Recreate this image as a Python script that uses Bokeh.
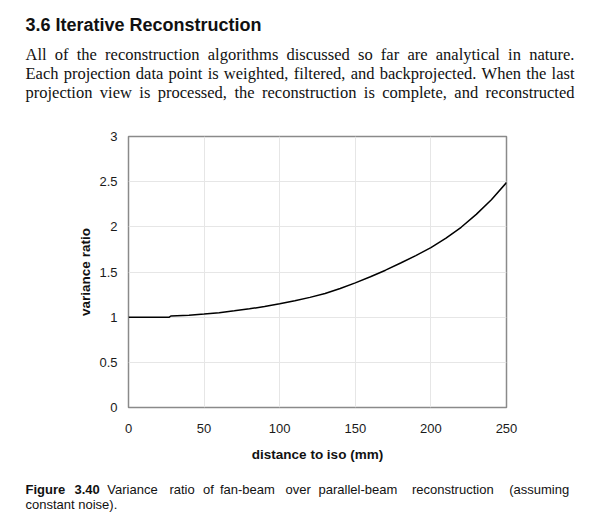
from bokeh.plotting import figure
from bokeh.layouts import column
from bokeh.models import Range1d, FixedTicker, NumeralTickFormatter
from bokeh.core.properties import value
from bokeh.embed import file_html
from bokeh.resources import INLINE

# ---- chart data ----
distance_mm = [0, 10, 20, 27, 28, 40, 50, 60, 70, 80, 90, 100, 110, 120, 130,
               140, 150, 160, 170, 180, 190, 200, 210, 220, 230, 240, 250]
variance_ratio = [1.0, 1.0, 1.0, 1.0, 1.013, 1.022, 1.035, 1.05, 1.07, 1.092,
                  1.118, 1.148, 1.181, 1.219, 1.262, 1.318, 1.38, 1.447, 1.52,
                  1.6, 1.682, 1.77, 1.875, 1.995, 2.138, 2.3, 2.49]
x_ticks = [0, 50, 100, 150, 200, 250]
y_ticks = [0, 0.5, 1, 1.5, 2, 2.5, 3]

heading = "3.6 Iterative Reconstruction"
para_lines = [
    "All of the reconstruction algorithms discussed so far are analytical in nature.",
    "Each projection data point is weighted, filtered, and backprojected. When the last",
    "projection view is processed, the reconstruction is complete, and reconstructed",
]
caption_bold = "Figure 3.40"
caption_line1 = "Variance ratio of fan-beam over parallel-beam reconstruction (assuming"
caption_line2 = "constant noise)."

# ---- font metrics (per 1000 em) for justification ----
TIMES = dict(zip(" ,.abcdefghijklmnopqrstuvwxyzAEW",
                 [250, 250, 250, 444, 500, 444, 500, 444, 333, 500, 500, 278, 278, 500, 278,
                  778, 500, 500, 500, 500, 333, 389, 278, 500, 500, 722, 500, 500, 444,
                  722, 611, 944]))
ARIAL = dict(zip(" abcdefghijklmnopqrstuvwxyz()-.V0123456789",
                 [278, 556, 556, 500, 556, 556, 278, 556, 556, 222, 222, 500, 222, 833, 556,
                  556, 556, 556, 333, 500, 278, 556, 500, 722, 500, 500, 500, 333, 333, 333,
                  278, 667] + [556] * 10))
ARIAL_B = dict(zip(" Figure.0123456789", [278, 611, 278, 611, 611, 389, 556, 278] + [556] * 10))


def wwidth(word, table, size):
    return sum(table.get(c, 500) for c in word) * size / 1000.0


W = 599
TOP_H = 110          # heading + paragraph band
CHART_BOTTOM = 466   # page y where chart canvas ends
CAP_H = 54           # caption band
FL, FR, FT, FB = 128, 506, 136, 407   # frame edges in page pixels


def text_band(y0, y1):
    f = figure(width=W, height=y1 - y0, x_range=Range1d(0, W),
               y_range=Range1d(y1, y0), output_backend="svg",
               toolbar_location=None, min_border=0,
               x_axis_location=None, y_axis_location=None,
               frame_align=False)
    f.grid.visible = False
    f.outline_line_color = None
    f.background_fill_color = "white"
    f.border_fill_color = "white"
    return f


def put(f, xs, ys, texts, font, size, bold=False):
    f.text(x=xs, y=ys, text=texts, text_font=value(font),
           text_font_size=value(f"{size}px"),
           text_font_style="bold" if bold else "normal",
           text_color="#111111", text_align="left", text_baseline="alphabetic")


def justify(f, words, x0, x1, py, font, size, space_w, bolds, tables, letter=False):
    """Place words so the line runs from x0 to x1.
    letter=False: extra room goes to word spaces; letter=True: spread over characters."""
    widths = [wwidth(w, t, size) for w, t in zip(words, tables)]
    natural = sum(widths) + space_w * size / 1000.0 * (len(words) - 1)
    extra = x1 - x0 - natural
    if letter:
        nchar = sum(len(w) for w in words) + len(words) - 1
        per_char = extra / (nchar - 1)
    x = x0
    for w, wd, b in zip(words, widths, bolds):
        put(f, [x], [py], [w], font, size, b)
        if letter:
            x += wd + space_w * size / 1000.0 + (len(w) + 1) * per_char
        else:
            x += wd + space_w * size / 1000.0 + extra / (len(words) - 1)


# ---- top band: heading + paragraph ----
top = text_band(0, TOP_H)
put(top, [25], [24.3], [heading], "Liberation Sans", 18, bold=True)
PS = 16.5
for line, base in zip(para_lines, [54, 73, 92]):
    words = line.split()
    justify(top, words, 25, 574, base, "Liberation Serif", PS, 250,
            [False] * len(words), [TIMES] * len(words))

# ---- chart ----
p = figure(frame_width=FR - FL, frame_height=FB - FT,
           x_range=Range1d(0, 250), y_range=Range1d(0, 3),
           output_backend="svg", toolbar_location=None,
           min_border_left=FL, min_border_right=W - FR,
           min_border_top=FT - TOP_H, min_border_bottom=CHART_BOTTOM - FB,
           background_fill_color="white", border_fill_color="white",
           frame_align=False)
p.outline_line_color = "#8a8a8a"
p.outline_line_width = 1.5

p.line(distance_mm, variance_ratio, line_color="black", line_width=1.5)

p.xaxis.ticker = FixedTicker(ticks=x_ticks)
p.yaxis.ticker = FixedTicker(ticks=y_ticks)
p.yaxis.formatter = NumeralTickFormatter(format="0.[0]")
p.xaxis.formatter = NumeralTickFormatter(format="0")
for ax in (p.xaxis, p.yaxis):
    ax.axis_line_color = None
    ax.major_tick_line_color = None
    ax.minor_tick_line_color = None
    ax.major_tick_out = 0
    ax.major_tick_in = 0
    ax.minor_tick_out = 0
    ax.minor_tick_in = 0
    ax.major_label_text_font = "Liberation Sans"
    ax.major_label_text_font_size = "13px"
    ax.major_label_text_color = "#1a1a1a"
    ax.axis_label_text_font = "Liberation Sans"
    ax.axis_label_text_font_size = "13.5px"
    ax.axis_label_text_font_style = "bold"
    ax.axis_label_text_color = "#111111"
p.xaxis.axis_label = "distance to iso (mm)"
p.yaxis.axis_label = "variance ratio"
p.xaxis.major_label_standoff = 16
p.yaxis.major_label_standoff = 11
p.xaxis.axis_label_standoff = 11
p.yaxis.axis_label_standoff = 3
p.xgrid.grid_line_color = "#e6e6e6"
p.ygrid.grid_line_color = "#e6e6e6"

# ---- caption band ----
cap = text_band(CHART_BOTTOM, CHART_BOTTOM + CAP_H)
CS = 13
bw = caption_bold.split()
rw = caption_line1.split()
cw = bw + rw
justify(cap, cw, 25, 575, 488.5, "Liberation Sans", CS, 278,
        [True] * len(bw) + [False] * len(rw),
        [ARIAL_B] * len(bw) + [ARIAL] * len(rw), letter=True)
put(cap, [25], [504], [caption_line2], "Liberation Sans", CS)

layout = column(top, p, cap, spacing=0)
open("out.html", "w").write(file_html(layout, INLINE))
